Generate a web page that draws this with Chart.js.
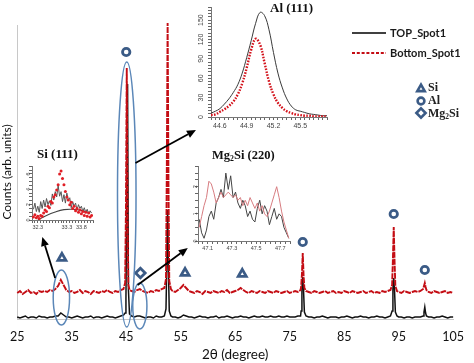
<!DOCTYPE html>
<html>
<head>
<meta charset="utf-8">
<script src="https://cdn.jsdelivr.net/npm/chart.js@4.4.1/dist/chart.umd.min.js"></script>
<style>
html,body{margin:0;padding:0;background:#fff;}
#wrap{position:relative;width:474px;height:363px;overflow:hidden;}
#wrap canvas{position:absolute;}
</style>
</head>
<body>
<div id="wrap">
  <canvas id="main" width="474" height="363" style="left:0;top:0"></canvas>
  <canvas id="al" width="150" height="135" style="left:185px;top:0"></canvas>
  <canvas id="si" width="80" height="75" style="left:20px;top:160px"></canvas>
  <canvas id="mg" width="110" height="96" style="left:185px;top:160px"></canvas>
</div>
<script>
/* XRD pattern, TOP vs Bottom spot, with three zoomed insets */

// ── Main pattern ────────────────────────────────────────────────────────────
const twoTheta = [
  25, 25.5, 26, 26.5, 27, 27.5, 28, 28.5, 29, 29.5,
  30, 30.5, 31, 31.5, 32, 32.5, 33, 33.5, 34, 34.5,
  35, 35.5, 36, 36.5, 37, 37.5, 38, 38.5, 39, 39.5,
  40, 40.5, 41, 41.5, 42, 42.5, 43, 43.5, 44, 44.5,
  44.8, 44.95, 45.1, 45.25, 45.4, 45.6, 46, 46.5, 47, 47.5,
  48, 48.5, 49, 49.5, 50, 50.5, 51, 51.5, 52, 52.3,
  52.45, 52.6, 52.75, 52.9, 53.2, 53.5, 54, 54.5, 55, 55.5,
  56, 56.5, 57, 57.5, 58, 58.5, 59, 59.5, 60, 60.5,
  61, 61.5, 62, 62.5, 63, 63.5, 64, 64.5, 65, 65.5,
  66, 66.5, 67, 67.5, 68, 68.5, 69, 69.5, 70, 70.5,
  71, 71.5, 72, 72.5, 73, 73.5, 74, 74.5, 75, 75.5,
  76, 76.5, 77, 77.1, 77.25, 77.4, 77.55, 77.7, 78, 78.5,
  79, 79.5, 80, 80.5, 81, 81.5, 82, 82.5, 83, 83.5,
  84, 84.5, 85, 85.5, 86, 86.5, 87, 87.5, 88, 88.5,
  89, 89.5, 90, 90.5, 91, 91.5, 92, 92.5, 93, 93.5,
  93.8, 93.95, 94.1, 94.25, 94.4, 94.7, 95, 95.5, 96, 96.5,
  97, 97.5, 98, 98.5, 99, 99.5, 99.65, 99.8, 99.95, 100.1,
  100.5, 101, 101.5, 102, 102.5, 103, 103.5, 104, 104.5, 105
];
const topSpot = [
  2, 1, 2, 3, 1, 2, 2, 1, 3, 2,
  2, 1, 2, 2, 3, 3, 6, 4, 2, 2,
  1, 2, 3, 2, 1, 2, 2, 3, 1, 2,
  2, 1, 2, 3, 2, 2, 1, 2, 3, 4,
  6, 20, 120, 235, 30, 5, 3, 2, 3, 3,
  2, 1, 2, 2, 1, 3, 2, 2, 3, 10,
  55, 109, 50, 8, 3, 2, 2, 1, 2, 4,
  3, 2, 2, 1, 2, 3, 2, 2, 1, 2,
  2, 3, 1, 2, 2, 3, 2, 1, 2, 2,
  3, 2, 2, 1, 2, 3, 2, 2, 3, 2,
  2, 3, 2, 2, 3, 2, 2, 3, 2, 2,
  2, 3, 3, 8, 30, 42, 28, 7, 3, 2,
  2, 1, 2, 2, 3, 2, 1, 2, 2, 2,
  1, 2, 2, 3, 2, 1, 2, 2, 3, 2,
  2, 1, 2, 2, 3, 2, 2, 1, 2, 3,
  8, 30, 41, 28, 7, 3, 2, 2, 1, 2,
  2, 1, 2, 2, 2, 3, 7, 12, 6, 3,
  2, 2, 1, 2, 2, 3, 2, 1, 2, 2
];
const bottomSpot = [
  26, 28, 25, 27, 29, 26, 27, 25, 28, 27,
  28, 27, 29, 28, 30, 33, 39, 34, 29, 27,
  28, 26, 27, 29, 26, 28, 27, 25, 28, 27,
  26, 28, 27, 29, 27, 26, 28, 27, 29, 30,
  36, 110, 251, 95, 34, 29, 28, 27, 29, 30,
  28, 27, 26, 28, 27, 29, 28, 30, 31, 40,
  150, 296, 140, 38, 30, 28, 27, 29, 31, 34,
  31, 28, 27, 26, 28, 27, 25, 28, 27, 26,
  28, 27, 26, 28, 27, 29, 26, 27, 28, 29,
  31, 29, 27, 26, 28, 27, 26, 28, 27, 26,
  28, 27, 26, 28, 27, 26, 27, 28, 26, 27,
  28, 27, 29, 32, 45, 66, 44, 31, 28, 27,
  26, 28, 27, 26, 27, 28, 26, 27, 28, 26,
  27, 26, 28, 27, 26, 28, 27, 26, 27, 28,
  26, 27, 28, 26, 27, 26, 28, 27, 28, 29,
  34, 60, 92, 58, 33, 28, 27, 26, 28, 27,
  26, 27, 28, 27, 28, 30, 33, 36, 32, 29,
  27, 26, 28, 27, 26, 27, 28, 26, 27, 26
];

// phase markers (2θ, height)
const alMarkX = [45.0, 52.6, 77.4, 94.1, 99.8];
const alMarkY = [267, 307, 77, 105, 49];
const siMarkX = [33.2, 55.8, 66.3];
const siMarkY = [61, 46, 45];
const mgMarkX = [47.6];
const mgMarkY = [46];

// highlight ellipses (centre 2θ, half width in 2θ, top, bottom)
const ellCx  = [45.1, 33.1, 47.5];
const ellRx  = [1.7, 1.5, 1.3];
const ellTop = [257, 49, 36];
const ellBot = [-8, -6, -10];

// arrows to the insets (from -> to)
const arrX0 = [46.7, 31.95, 47.1];
const arrY0 = [156, 41, 34];
const arrX1 = [57.8, 29.6, 56.3];
const arrY1 = [189, 82, 71];

// ── Insets ──────────────────────────────────────────────────────────────────
const alX = [44.5, 44.55, 44.6, 44.65, 44.7, 44.75, 44.8, 44.85, 44.9, 44.95,
             45.0, 45.05, 45.1, 45.15, 45.2, 45.25, 45.3, 45.35, 45.4, 45.45,
             45.5, 45.55, 45.6, 45.65, 45.7, 45.75, 45.8];
const alTop = [6, 9, 13, 20, 28, 38, 50, 68, 92, 118,
               145, 162, 157, 135, 100, 68, 45, 28, 17, 11,
               9, 7, 5, 4, 3, 2, 2];
const alBottom = [3, 4, 8, 12, 17, 24, 35, 52, 76, 104,
                  121, 112, 84, 55, 35, 22, 14, 9, 6, 4,
                  3, 2, 2, 1, 1, 1, 1];
const alTickLabels = [44.6, 44.9, 45.2, 45.5];
const alYLabels = [0, 30, 60, 90, 120, 150];

const siX = [32.15, 32.2, 32.25, 32.3, 32.35, 32.4, 32.45, 32.5, 32.55, 32.6,
             32.65, 32.7, 32.75, 32.8, 32.85, 32.9, 32.95, 33.0, 33.05, 33.1,
             33.15, 33.2, 33.25, 33.3, 33.35, 33.4, 33.45, 33.5, 33.55, 33.6,
             33.65, 33.7, 33.75, 33.8, 33.85, 33.9, 33.95, 34.0, 34.05, 34.1, 34.15];
const siTop = [1.4, 2.2, 1.1, 1.8, 1.0, 2.4, 1.5, 2.6, 1.7, 2.8,
               2.0, 2.5, 1.9, 3.4, 2.6, 3.7, 3.0, 4.5, 3.1, 3.7,
               2.4, 3.3, 2.2, 3.5, 2.6, 2.9, 1.6, 2.4, 1.8, 2.2,
               1.3, 2.0, 1.5, 1.8, 1.1, 1.6, 1.0, 1.4, 0.8, 1.2, 0.9];
const siBottom = [0.4, 0.7, 0.3, 0.5, 0.2, 0.6, 0.5, 0.9, 1.3, 1.1,
                  1.8, 1.6, 2.4, 2.2, 3.0, 3.3, 3.9, 4.6, 6.0, 6.4,
                  5.4, 4.6, 3.7, 3.0, 2.6, 2.0, 2.3, 1.5, 1.8, 1.2,
                  1.5, 1.0, 1.3, 0.8, 1.1, 0.6, 1.0, 0.5, 0.9, 0.4, 0.6];
const siBgX = [32.3, 32.6, 32.9, 33.2, 33.5, 33.8, 34.1];
const siBg  = [0, 0.6, 1.05, 1.35, 1.4, 1.25, 0.9];
const siTickLabels = [32.3, 33.3, 33.8];
const siYLabels = [0, 2, 4, 6];

const mgX = [47.03, 47.05, 47.07, 47.09, 47.11, 47.13, 47.15, 47.17, 47.19, 47.21,
             47.23, 47.25, 47.27, 47.29, 47.31, 47.33, 47.35, 47.37, 47.39, 47.41,
             47.43, 47.45, 47.47, 47.49, 47.51, 47.53, 47.55, 47.57, 47.59, 47.61,
             47.63, 47.65, 47.67, 47.69, 47.71, 47.73, 47.75, 47.77];
const mgTop = [0.8, 0.3, 0.1, 0.4, 0.9, 1.1, 0.8, 1.4, 1.6, 1.9,
               1.6, 2.5, 1.9, 2.4, 1.6, 1.8, 1.4, 1.2, 1.5, 1.3,
               0.9, 1.1, 0.8, 0.7, 1.2, 1.5, 1.0, 1.3, 1.1, 0.6,
               0.9, 1.2, 0.8, 1.0, 0.9, 0.5, 0.3, 0.1];
const mgBottom = [0.5, 0.9, 1.3, 1.6, 2.2, 2.1, 1.8, 1.4, 1.6, 1.8,
                  1.6, 1.7, 1.8, 1.7, 1.6, 1.7, 1.5, 1.6, 1.3, 1.5,
                  1.3, 1.6, 1.4, 1.2, 1.4, 1.1, 1.3, 1.0, 0.9, 1.1,
                  1.4, 1.7, 2.0, 1.6, 1.1, 0.7, 0.4, 0.1];
const mgTickLabels = [47.1, 47.3, 47.5, 47.7];
const mgYLabels = [0, 1, 2];

const BLUE = "#3b5b86", RED = "#c40d14";
const pts = (xs, ys) => xs.map((x, i) => ({x, y: ys[i]}));

// ── Main chart decorations ──────────────────────────────────────────────────
function richText(ctx, parts, x, y, size){
    let cx = x;
    parts.forEach(([t, sub]) => {
        ctx.font = `bold ${sub ? size * 0.62 : size}px "Liberation Serif"`;
        ctx.fillText(t, cx, y + (sub ? size * 0.22 : 0));
        cx += ctx.measureText(t).width;
    });
}

function marker(ctx, style, r, x, y){
    ctx.fillStyle = "#fff"; ctx.strokeStyle = BLUE; ctx.lineWidth = 2.6;
    Chart.helpers.drawPoint(ctx, {pointStyle: style, radius: r, borderWidth: 2.6, rotation: 0}, x, y);
}

const decor = {
    id: "decor",
    afterDatasetsDraw(chart){
        const {ctx, scales: {x, y}} = chart;
        ctx.save();
        ctx.strokeStyle = "#5b87b8"; ctx.lineWidth = 1.5;
        ellCx.forEach((c, i) => {
            const px = x.getPixelForValue(c);
            const rx = x.getPixelForValue(c + ellRx[i]) - px;
            const yt = y.getPixelForValue(ellTop[i]), yb = y.getPixelForValue(ellBot[i]);
            ctx.beginPath();
            ctx.ellipse(px, (yt + yb) / 2, rx, (yb - yt) / 2, 0, 0, Math.PI * 2);
            ctx.stroke();
        });
        ctx.strokeStyle = "#000"; ctx.fillStyle = "#000"; ctx.lineWidth = 1.8;
        arrX0.forEach((a, i) => {
            const x0 = x.getPixelForValue(a), y0 = y.getPixelForValue(arrY0[i]);
            const x1 = x.getPixelForValue(arrX1[i]), y1 = y.getPixelForValue(arrY1[i]);
            const ang = Math.atan2(y1 - y0, x1 - x0), hl = 9, hw = 4;
            ctx.beginPath();
            ctx.moveTo(x0, y0);
            ctx.lineTo(x1 - Math.cos(ang) * hl, y1 - Math.sin(ang) * hl);
            ctx.stroke();
            ctx.beginPath();
            ctx.moveTo(x1, y1);
            ctx.lineTo(x1 - Math.cos(ang) * hl - Math.sin(ang) * hw, y1 - Math.sin(ang) * hl + Math.cos(ang) * hw);
            ctx.lineTo(x1 - Math.cos(ang) * hl + Math.sin(ang) * hw, y1 - Math.sin(ang) * hl - Math.cos(ang) * hw);
            ctx.closePath(); ctx.fill();
        });
        ctx.restore();
    },
    afterDraw(chart){
        const ctx = chart.ctx;
        ctx.save();
        // series legend
        ctx.lineWidth = 1.5; ctx.strokeStyle = "#000";
        ctx.beginPath(); ctx.moveTo(352, 33); ctx.lineTo(386, 33); ctx.stroke();
        ctx.strokeStyle = RED; ctx.lineWidth = 1.8; ctx.setLineDash([3, 1.8]);
        ctx.beginPath(); ctx.moveTo(352, 53); ctx.lineTo(386, 53); ctx.stroke();
        ctx.setLineDash([]);
        ctx.fillStyle = "#1a1a1a"; ctx.textAlign = "left"; ctx.textBaseline = "middle";
        ctx.font = 'bold 11px Lato';
        ctx.fillText("TOP_Spot1", 390, 33);
        ctx.fillText("Bottom_Spot1", 390, 53);
        // phase legend
        marker(ctx, "triangle", 4.3, 421, 89);
        marker(ctx, "circle", 3.4, 421, 101);
        marker(ctx, "rectRot", 4.6, 421, 113);
        ctx.fillStyle = "#222";
        richText(ctx, [["Si", 0]], 428, 88, 12);
        richText(ctx, [["Al", 0]], 428, 101, 12);
        richText(ctx, [["Mg", 0], ["2", 1], ["Si", 0]], 428, 114, 12);
        // inset titles
        ctx.fillStyle = "#111";
        richText(ctx, [["Al (111)", 0]], 270, 9, 13);
        richText(ctx, [["Si (111)", 0]], 37, 155, 13);
        richText(ctx, [["Mg", 0], ["2", 1], ["Si (220)", 0]], 212, 156, 12.5);
        ctx.restore();
    }
};

const mainDot = (data, style, r) => ({
    data, showLine: false, pointStyle: style, pointRadius: r, pointHoverRadius: r,
    pointBorderWidth: 2.8, pointBorderColor: BLUE, pointBackgroundColor: "#fff", clip: false
});

new Chart(document.getElementById("main"), {
    type: "line",
    data: {datasets: [
        mainDot(pts(alMarkX, alMarkY), "circle", 3.7),
        mainDot(pts(siMarkX, siMarkY), "triangle", 4.6),
        mainDot(pts(mgMarkX, mgMarkY), "rectRot", 4.8),
        {label: "Bottom_Spot1", data: pts(twoTheta, bottomSpot), borderColor: RED, borderWidth: 1.9,
         borderDash: [6, 1], pointRadius: 0, tension: 0, clip: false},
        {label: "TOP_Spot1", data: pts(twoTheta, topSpot), borderColor: "#111", borderWidth: 1.5,
         pointRadius: 0, tension: 0, clip: false}
    ]},
    options: {
        responsive: false, animation: false,
        layout: {padding: {left: 0, top: 25, right: 9, bottom: 0}},
        plugins: {legend: {display: false}, tooltip: {enabled: false}},
        scales: {
            x: {type: "linear", min: 25, max: 105,
                afterFit: s => { s.height = 44; },
                border: {color: "#c8c8c8"},
                grid: {display: false, drawTicks: false},
                ticks: {stepSize: 10, padding: 10, maxRotation: 0, color: "#111",
                        font: {family: "Lato", size: 12.5}},
                title: {display: true, text: "2θ (degree)", color: "#111", padding: 0,
                        font: {family: "Lato", size: 13.5}}},
            y: {min: 0, max: 294,
                afterFit: s => { s.width = 17; },
                border: {color: "#c8c8c8"},
                grid: {display: false, drawTicks: false},
                ticks: {display: false},
                title: {display: true, text: "Counts (arb. units)", color: "#111", padding: 0,
                        font: {family: "Lato", size: 12}}}
        }
    },
    plugins: [decor]
});

// ── Inset charts ────────────────────────────────────────────────────────────
function rotY(x, size, labels){
    return {
        id: "rotY",
        afterDraw(chart){
            const s = chart.scales.y, ctx = chart.ctx;
            ctx.save();
            ctx.fillStyle = "#444"; ctx.font = `${size}px "Liberation Sans"`;
            ctx.textAlign = "center"; ctx.textBaseline = "middle";
            labels.forEach(v => {
                ctx.save();
                ctx.translate(x, s.getPixelForValue(v));
                ctx.rotate(-Math.PI / 2);
                ctx.fillText(String(v), 0, 0);
                ctx.restore();
            });
            ctx.restore();
        }
    };
}

const pick = list => v => {
    const m = list.find(l => Math.abs(l - v) < 1e-6);
    return m === undefined ? "" : String(m);
};

function inset(id, o){
    return new Chart(document.getElementById(id), {
        type: "line",
        data: {datasets: o.datasets},
        options: {
            responsive: false, animation: false,
            layout: {padding: {left: 0, top: o.top, right: o.right, bottom: 0}},
            plugins: {legend: {display: false}, tooltip: {enabled: false}},
            elements: {point: {radius: 0}},
            scales: {
                x: {type: "linear", min: o.xmin, max: o.xmax,
                    afterFit: s => { s.height = o.xh; },
                    border: {color: "#777"},
                    grid: {drawOnChartArea: false, tickLength: 3, color: "#666"},
                    ticks: {stepSize: o.xstep, autoSkip: false, maxRotation: 0, minRotation: 0,
                            padding: o.xpad, color: "#444", callback: pick(o.xlabels),
                            font: {family: "Liberation Sans", size: o.fs}}},
                y: {min: 0, max: o.ymax,
                    afterFit: s => { s.width = o.yw; },
                    border: {color: "#777"},
                    grid: {drawOnChartArea: false, tickLength: 3, color: "#666"},
                    ticks: {stepSize: o.ystep, autoSkip: false, color: "rgba(0,0,0,0)",
                            callback: () => "", font: {size: o.fs}}}
            }
        },
        plugins: [rotY(o.ylx, o.fs, o.ylabels)]
    });
}

inset("al", {
    xmin: 44.5, xmax: 45.8, xstep: 0.05, xlabels: alTickLabels, xh: 18, xpad: 2,
    ymax: 170, ystep: 5, ylabels: alYLabels, yw: 26, ylx: 16,
    top: 0, right: 8, fs: 7,
    datasets: [
        {data: pts(alX, alBottom), borderColor: "#d3121b", borderWidth: 2.4, borderDash: [1.6, 1.4], tension: 0.4},
        {data: pts(alX, alTop), borderColor: "#3a3a3a", borderWidth: 1, tension: 0.4}
    ]
});

inset("si", {
    xmin: 32.1, xmax: 34.2, xstep: 0.1, xlabels: siTickLabels, xh: 15, xpad: 1,
    ymax: 7, ystep: 0.5, ylabels: siYLabels, yw: 12, ylx: 8,
    top: 3, right: 7, fs: 5.5,
    datasets: [
        {data: pts(siX, siBottom), showLine: false, pointRadius: 1.5, pointBackgroundColor: "#e01f26",
         pointBorderWidth: 0},
        {data: pts(siX, siTop), borderColor: "#555", borderWidth: 1, tension: 0},
        {data: pts(siBgX, siBg), borderColor: "#444", borderWidth: 1.1, tension: 0.4}
    ]
});

inset("mg", {
    xmin: 47.02, xmax: 47.78, xstep: 0.04, xlabels: mgTickLabels, xh: 15, xpad: 1,
    ymax: 2.75, ystep: 0.25, ylabels: mgYLabels, yw: 13, ylx: 10,
    top: 5, right: 5, fs: 5.5,
    datasets: [
        {data: pts(mgX, mgBottom), borderColor: "#d77c80", borderWidth: 1, tension: 0},
        {data: pts(mgX, mgTop), borderColor: "#444", borderWidth: 1, tension: 0}
    ]
});
</script>
</body>
</html>
